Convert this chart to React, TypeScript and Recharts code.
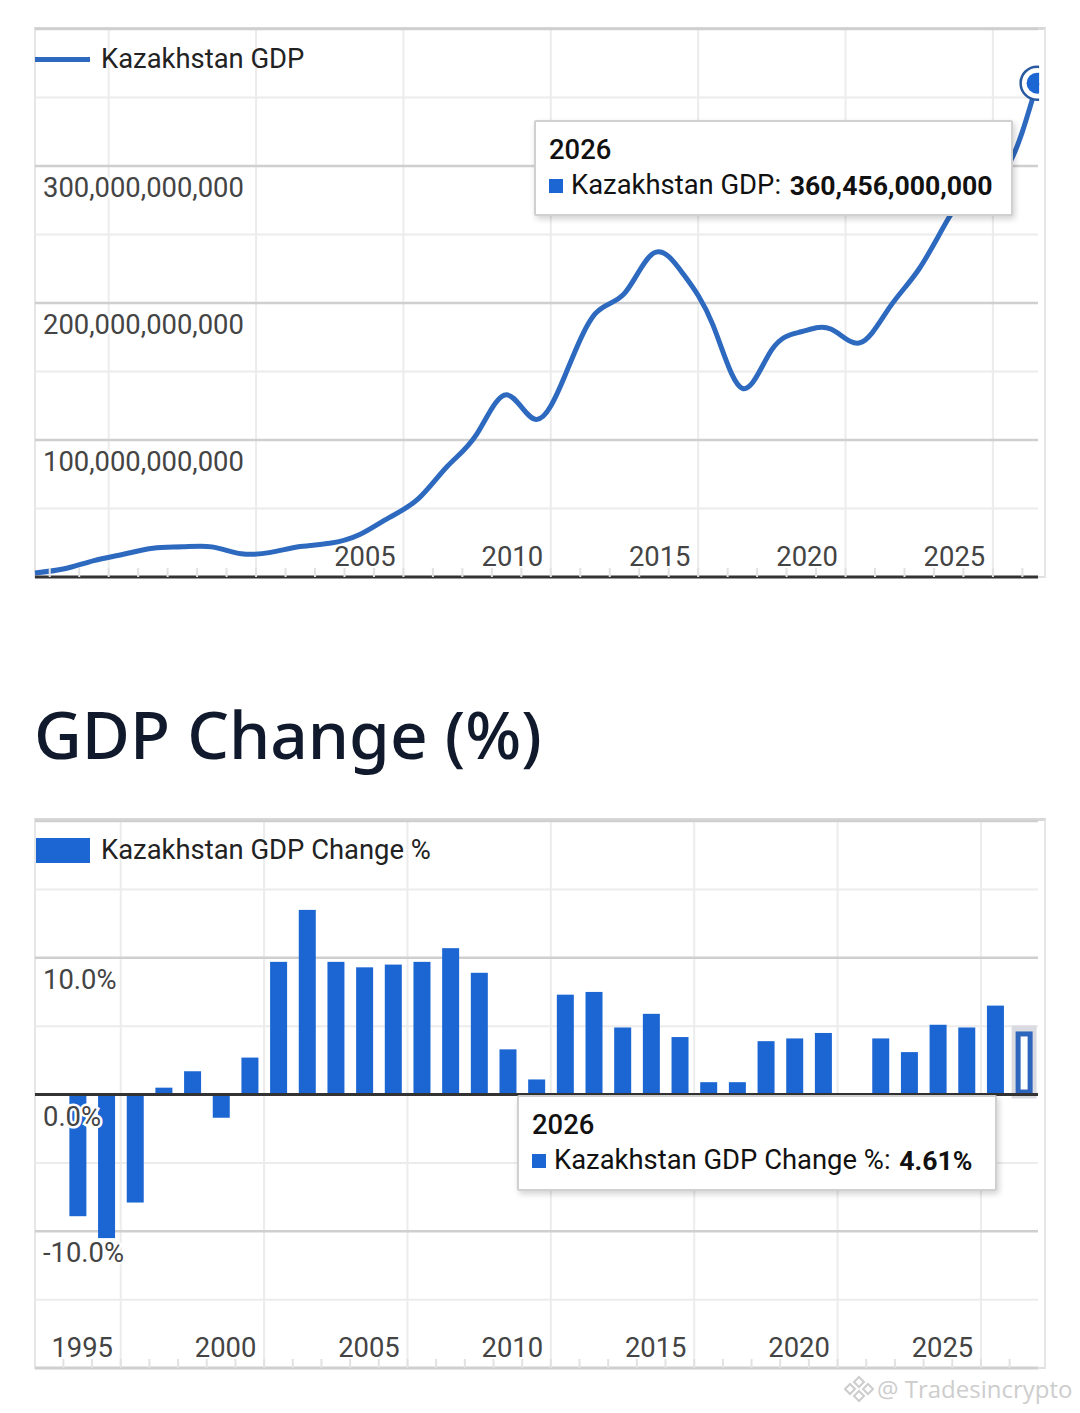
import React from 'react';
import {
  LineChart, Line, BarChart, Bar, XAxis, YAxis, CartesianGrid, Tooltip, Legend, ReferenceLine,
} from 'recharts';

const gdpYears = [1992, 1993, 1994, 1995, 1996, 1997, 1998, 1999, 2000, 2001, 2002, 2003, 2004, 2005, 2006, 2007, 2008, 2009, 2010, 2011, 2012, 2013, 2014, 2015, 2016, 2017, 2018, 2019, 2020, 2021, 2022, 2023, 2024, 2025, 2026];
// billions of USD
const gdpValues = [3, 6, 12, 16.6, 21, 22, 22, 17, 18, 22.2, 24.6, 30.8, 43.2, 57, 81, 104.7, 133, 115, 148, 192, 207, 236.6, 221, 184, 137.7, 166, 179, 181, 171, 197, 225, 262, 288, 300, 360.456];
const gdpMajor = [100e9, 200e9, 300e9, 400e9];
const gdpMinor = [50e9, 150e9, 250e9, 350e9];
const gdpTicks = [100e9, 200e9, 300e9];
const gdpLabelYears = [2005, 2010, 2015, 2020, 2025];

const changeYears = [1993, 1994, 1995, 1996, 1997, 1998, 1999, 2000, 2001, 2002, 2003, 2004, 2005, 2006, 2007, 2008, 2009, 2010, 2011, 2012, 2013, 2014, 2015, 2016, 2017, 2018, 2019, 2020, 2021, 2022, 2023, 2024, 2025, 2026];
const changeValues = [-8.9, -10.5, -7.9, 0.5, 1.7, -1.7, 2.7, 9.7, 13.5, 9.7, 9.3, 9.5, 9.7, 10.7, 8.9, 3.3, 1.1, 7.3, 7.5, 4.9, 5.9, 4.2, 0.9, 0.9, 3.9, 4.1, 4.5, -2.6, 4.1, 3.1, 5.1, 4.9, 6.5, 4.61];
const changeMajor = [-10, 10, 20];
const changeMinor = [-15, -5, 5, 15];
const changeTicks = [-10, 0, 10];
const changeLabelYears = [1995, 2000, 2005, 2010, 2015, 2020, 2025];

const gridYears = [1994.5, 1999.5, 2004.5, 2009.5, 2014.5, 2019.5, 2024.5];
const tickYears = [1992.5, 1993.5, 1994.5, 1995.5, 1996.5, 1997.5, 1998.5, 1999.5, 2000.5, 2001.5, 2002.5, 2003.5, 2004.5, 2005.5, 2006.5, 2007.5, 2008.5, 2009.5, 2010.5, 2011.5, 2012.5, 2013.5, 2014.5, 2015.5, 2016.5, 2017.5, 2018.5, 2019.5, 2020.5, 2021.5, 2022.5, 2023.5, 2024.5, 2025.5];

const gdpData = gdpYears.map((year, i) => ({ year, gdp: Math.round(gdpValues[i] * 1e9) }));
const changeData = changeYears.map((year, i) => ({ year, change: changeValues[i] }));

const FONT = 'Roboto, sans-serif';
const BLUE = '#1c66d4';
const LINE_BLUE = '#2d69bf';

const labelStyle: React.CSSProperties = { fontFamily: FONT, fontSize: 27.4, fill: '#444' };

function yTick(format: (v: number) => string) {
  return ({ y, payload }: any) => (
    <text x={43} y={y + 31} {...labelStyle} stroke="#fff" strokeWidth={5} paintOrder="stroke">
      {format(payload.value)}
    </text>
  );
}

function xTick(labels: number[], labelDx: number, labelY: number) {
  return ({ x, y, payload }: any) => {
    const year = payload.value + 0.5;
    return (
      <g>
        <line x1={x} x2={x} y1={y - 9} y2={y} stroke="#e2e2e2" strokeWidth={2} />
        {labels.includes(year) && (
          <text x={x + labelDx} y={y + labelY} textAnchor="middle" {...labelStyle}>{year}</text>
        )}
      </g>
    );
  };
}

function GdpDot({ cx, cy }: any) {
  return (
    <g>
      <clipPath id="dotClip"><rect x={cx - 25} y={cy - 25} width={27} height={50} /></clipPath>
      <g clipPath="url(#dotClip)">
        <circle cx={cx} cy={cy} r={16.5} fill="#fff" stroke="#2a5a9f" strokeWidth={2.5} />
        <circle cx={cx} cy={cy} r={10.5} fill={BLUE} />
      </g>
    </g>
  );
}

function ChangeBar(props: any) {
  const { x, y, width, height, year } = props;
  const top = Math.min(y, y + height);
  const h = Math.abs(height);
  if (year === 2026) {
    return (
      <g>
        <rect x={x - 4} y={top - 6} width={width + 8} height={h + 10} fill="#d9dbe0" />
        <rect x={x + 2.5} y={top + 2.5} width={width - 5} height={h - 5} fill="#fff" stroke="#2f66bd" strokeWidth={5} />
      </g>
    );
  }
  return <rect x={x} y={top} width={width} height={h} fill={BLUE} />;
}

function LegendRow({ payload, swatch }: any) {
  const item = payload && payload[0];
  return (
    <div style={{ display: 'flex', alignItems: 'center', fontFamily: FONT, fontSize: 27.4, color: '#222' }}>
      {swatch}
      <span style={{ marginLeft: 11, whiteSpace: 'nowrap' }}>{item ? item.value : ''}</span>
    </div>
  );
}

function TipBox({ active, payload, name, format, width }: any) {
  if (!active || !payload || !payload.length) return null;
  const row = payload[0];
  return (
    <div style={{
      width, height: 96, boxSizing: 'border-box', background: '#fff', border: '2px solid #d0d0d0',
      borderRadius: 2, boxShadow: '2px 3px 6px rgba(0,0,0,0.18)', padding: '11px 13px', fontFamily: FONT,
      fontSize: 27.4, color: '#111', lineHeight: '35px', whiteSpace: 'nowrap',
    }}>
      <div style={{ fontWeight: 500 }}>{row.payload.year}</div>
      <div style={{ display: 'flex', alignItems: 'center' }}>
        <span style={{ width: 14, height: 14, background: BLUE, marginRight: 8, display: 'inline-block' }} />
        <span>{name}:&nbsp;</span>
        <span style={{ fontWeight: 700, fontSize: 26.6, marginLeft: 2 }}>{format(row.value)}</span>
      </div>
    </div>
  );
}

function Frame({ top }: { top: number }) {
  return (
    <div style={{
      position: 'absolute', left: 34, top, width: 1012, height: 551, boxSizing: 'border-box',
      borderLeft: '2px solid #e6e6e6', borderRight: '2px solid #e6e6e6', borderTop: '3px solid #d8d8d8',
      borderBottom: '2px solid #e0e0e0',
    }} />
  );
}

function GdpChart() {
  return (
    <div style={{ position: 'absolute', left: 0, top: 0 }}>
      <LineChart width={1080} height={600} data={gdpData} margin={{ top: 29, right: 42, bottom: 22, left: 34 }}>
        <CartesianGrid horizontalValues={gdpMinor} verticalValues={gridYears} stroke="#ececec" strokeWidth={2} />
        <CartesianGrid vertical={false} horizontalValues={gdpMajor} stroke="#cfcfcf" strokeWidth={2.5} />
        <XAxis
          dataKey="year" type="number" domain={[1992, 2026.03]} ticks={tickYears} interval={0} height={1}
          tickSize={0} tickMargin={0} axisLine={{ stroke: '#333', strokeWidth: 3 }} tickLine={false}
          tick={xTick(gdpLabelYears, -38.5, -11)}
        />
        <YAxis
          type="number" domain={[0, 400e9]} ticks={gdpTicks} width={1} axisLine={false} tickLine={false} interval={0}
          tick={yTick((v) => v.toLocaleString('en-US'))}
        />
        <Line
          dataKey="gdp" name="Kazakhstan GDP" type="natural" stroke={LINE_BLUE} strokeWidth={5}
          dot={false} activeDot={(p: any) => <GdpDot {...p} />} isAnimationActive={false}
        />
        <Legend
          layout="horizontal" verticalAlign="middle" align="center"
          wrapperStyle={{ left: 35, top: 43, width: 500 }}
          content={(p: any) => (
            <LegendRow {...p} swatch={<span style={{ width: 55, height: 5, background: LINE_BLUE }} />} />
          )}
        />
        <Tooltip
          active defaultIndex={gdpData.length - 1} cursor={false} position={{ x: 534, y: 120 }}
          isAnimationActive={false} wrapperStyle={{ zIndex: 20 }}
          content={(p: any) => (
            <TipBox {...p} width={479} name="Kazakhstan GDP" format={(v: number) => v.toLocaleString('en-US')} />
          )}
        />
      </LineChart>
    </div>
  );
}

function ChangeChart() {
  return (
    <div style={{ position: 'absolute', left: 0, top: 800 }}>
      <BarChart width={1080} height={600} data={changeData} margin={{ top: 21, right: 42, bottom: 31, left: 34 }} barSize={17}>
        <CartesianGrid horizontalValues={changeMinor} verticalValues={gridYears} stroke="#ececec" strokeWidth={2} />
        <CartesianGrid vertical={false} horizontalValues={changeMajor} stroke="#cfcfcf" strokeWidth={2.5} />
        <Bar dataKey="change" name="Kazakhstan GDP Change %" fill={BLUE} shape={ChangeBar} isAnimationActive={false} />
        <ReferenceLine y={0} stroke="#333" strokeWidth={3} />
        <XAxis
          dataKey="year" type="number" domain={[1991.51, 2026.49]} ticks={tickYears} interval={0} height={1}
          tickSize={0} tickMargin={0} axisLine={{ stroke: '#cfcfcf', strokeWidth: 3 }} tickLine={false}
          tick={xTick(changeLabelYears, -38.5, -11)}
        />
        <YAxis
          type="number" domain={[-20, 20]} ticks={changeTicks} width={1} axisLine={false} tickLine={false} interval={0}
          tick={yTick((v) => `${v.toFixed(1)}%`)}
        />
        <Legend
          layout="horizontal" verticalAlign="middle" align="center"
          wrapperStyle={{ left: 36, top: 34, width: 600 }}
          content={(p: any) => (
            <LegendRow {...p} swatch={<span style={{ width: 54, height: 25, background: BLUE }} />} />
          )}
        />
        <Tooltip
          active defaultIndex={changeData.length - 1} cursor={false} position={{ x: 517, y: 295 }}
          isAnimationActive={false} wrapperStyle={{ zIndex: 20 }}
          content={(p: any) => (
            <TipBox {...p} width={480} name="Kazakhstan GDP Change %" format={(v: number) => `${v}%`} />
          )}
        />
      </BarChart>
    </div>
  );
}

export default function App() {
  return (
    <div style={{ position: 'absolute', left: 0, top: 0, width: 1080, height: 1413, background: '#fff', overflow: 'hidden' }}>
      <Frame top={27} />
      <GdpChart />
      <div style={{
        position: 'absolute', left: 34, top: 689, fontFamily: '"Noto Sans", sans-serif', fontSize: 65.8,
        fontWeight: 500, color: '#111a2c', whiteSpace: 'nowrap', lineHeight: '90px',
      }}>
        GDP Change (%)
      </div>
      <Frame top={818} />
      <ChangeChart />
      <div style={{
        position: 'absolute', left: 844, top: 1372, display: 'flex', alignItems: 'center',
        fontFamily: '"Open Sans", sans-serif', fontSize: 24, color: '#cdcdcd', whiteSpace: 'nowrap',
      }}>
        <svg width={30} height={30} viewBox="0 0 30 30" style={{ marginRight: 3 }}>
          <g fill="none" stroke="#cdcdcd" strokeWidth={2}>
            <path d="M15 3l5 5-5 5-5-5z" />
            <path d="M6 10l5 5-5 5-5-5z" />
            <path d="M24 10l5 5-5 5-5-5z" />
            <path d="M15 17l5 5-5 5-5-5z" />
          </g>
        </svg>
        @ Tradesincrypto
      </div>
    </div>
  );
}
